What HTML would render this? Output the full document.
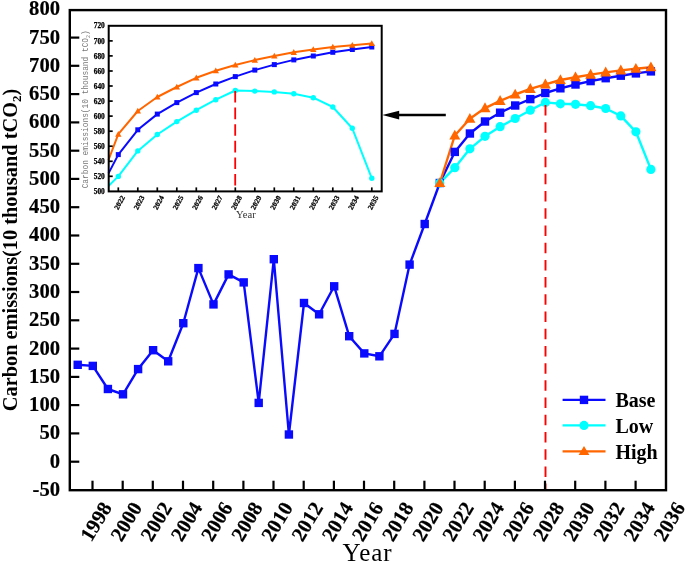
<!DOCTYPE html><html><head><meta charset="utf-8"><title>Carbon emissions</title>
<style>html,body{margin:0;padding:0;background:#fff}svg{display:block}text{font-family:"Liberation Serif",serif}.b{font-weight:bold}.m{font-family:"Liberation Mono",monospace}</style></head><body>
<svg width="685" height="563" viewBox="0 0 685 563">
<rect width="685" height="563" fill="#fff"/>
<polyline fill="none" stroke="#0a0aff" stroke-width="2.4" stroke-linejoin="round" points="77.7,364.8 92.8,365.9 107.9,389.0 123.0,394.3 138.1,369.1 153.1,350.2 168.2,361.3 183.3,323.2 198.4,268.1 213.5,304.4 228.6,274.4 243.7,282.4 258.7,402.9 273.8,259.2 288.9,434.5 304.0,303.0 319.1,314.3 334.2,286.3 349.2,336.2 364.3,353.4 379.4,356.3 394.5,333.9 409.6,264.6 424.7,224.0 439.8,183.0 454.8,151.9 469.9,133.5 485.0,121.5 500.1,112.7 515.2,105.5 530.3,99.1 545.4,93.0 560.4,88.3 575.5,84.5 590.6,81.1 605.7,78.2 620.8,75.7 635.9,73.4 650.9,71.4"/>
<polyline fill="none" stroke="#00ffff" stroke-width="2.4" stroke-linejoin="round" points="439.8,183.0 454.8,167.7 469.9,148.8 485.0,136.3 500.1,126.7 515.2,118.5 530.3,110.2 545.4,102.4 560.4,103.8 575.5,104.3 590.6,105.7 605.7,108.5 620.8,115.9 635.9,131.8 650.9,169.4"/>
<polyline fill="none" stroke="#ff6600" stroke-width="2.4" stroke-linejoin="round" points="439.8,183.0 454.8,135.5 469.9,118.7 485.0,108.1 500.1,100.9 515.2,94.5 530.3,88.9 545.4,84.4 560.4,80.0 575.5,77.2 590.6,74.6 605.7,72.4 620.8,70.4 635.9,68.7 650.9,67.2"/>
<rect x="73.5" y="360.6" width="8.4" height="8.4" fill="#0a0aff"/>
<rect x="88.6" y="361.7" width="8.4" height="8.4" fill="#0a0aff"/>
<rect x="103.7" y="384.8" width="8.4" height="8.4" fill="#0a0aff"/>
<rect x="118.8" y="390.1" width="8.4" height="8.4" fill="#0a0aff"/>
<rect x="133.9" y="364.9" width="8.4" height="8.4" fill="#0a0aff"/>
<rect x="148.9" y="346.0" width="8.4" height="8.4" fill="#0a0aff"/>
<rect x="164.0" y="357.1" width="8.4" height="8.4" fill="#0a0aff"/>
<rect x="179.1" y="319.0" width="8.4" height="8.4" fill="#0a0aff"/>
<rect x="194.2" y="263.9" width="8.4" height="8.4" fill="#0a0aff"/>
<rect x="209.3" y="300.2" width="8.4" height="8.4" fill="#0a0aff"/>
<rect x="224.4" y="270.2" width="8.4" height="8.4" fill="#0a0aff"/>
<rect x="239.5" y="278.2" width="8.4" height="8.4" fill="#0a0aff"/>
<rect x="254.5" y="398.7" width="8.4" height="8.4" fill="#0a0aff"/>
<rect x="269.6" y="255.0" width="8.4" height="8.4" fill="#0a0aff"/>
<rect x="284.7" y="430.3" width="8.4" height="8.4" fill="#0a0aff"/>
<rect x="299.8" y="298.8" width="8.4" height="8.4" fill="#0a0aff"/>
<rect x="314.9" y="310.1" width="8.4" height="8.4" fill="#0a0aff"/>
<rect x="330.0" y="282.1" width="8.4" height="8.4" fill="#0a0aff"/>
<rect x="345.0" y="332.0" width="8.4" height="8.4" fill="#0a0aff"/>
<rect x="360.1" y="349.2" width="8.4" height="8.4" fill="#0a0aff"/>
<rect x="375.2" y="352.1" width="8.4" height="8.4" fill="#0a0aff"/>
<rect x="390.3" y="329.7" width="8.4" height="8.4" fill="#0a0aff"/>
<rect x="405.4" y="260.4" width="8.4" height="8.4" fill="#0a0aff"/>
<rect x="420.5" y="219.8" width="8.4" height="8.4" fill="#0a0aff"/>
<rect x="435.6" y="178.8" width="8.4" height="8.4" fill="#0a0aff"/>
<rect x="450.6" y="147.7" width="8.4" height="8.4" fill="#0a0aff"/>
<rect x="465.7" y="129.3" width="8.4" height="8.4" fill="#0a0aff"/>
<rect x="480.8" y="117.3" width="8.4" height="8.4" fill="#0a0aff"/>
<rect x="495.9" y="108.5" width="8.4" height="8.4" fill="#0a0aff"/>
<rect x="511.0" y="101.3" width="8.4" height="8.4" fill="#0a0aff"/>
<rect x="526.1" y="94.9" width="8.4" height="8.4" fill="#0a0aff"/>
<rect x="541.1" y="88.8" width="8.4" height="8.4" fill="#0a0aff"/>
<rect x="556.2" y="84.1" width="8.4" height="8.4" fill="#0a0aff"/>
<rect x="571.3" y="80.3" width="8.4" height="8.4" fill="#0a0aff"/>
<rect x="586.4" y="76.9" width="8.4" height="8.4" fill="#0a0aff"/>
<rect x="601.5" y="74.0" width="8.4" height="8.4" fill="#0a0aff"/>
<rect x="616.6" y="71.5" width="8.4" height="8.4" fill="#0a0aff"/>
<rect x="631.7" y="69.2" width="8.4" height="8.4" fill="#0a0aff"/>
<rect x="646.7" y="67.2" width="8.4" height="8.4" fill="#0a0aff"/>
<circle cx="439.8" cy="183.0" r="4.6" fill="#00ffff"/>
<circle cx="454.8" cy="167.7" r="4.6" fill="#00ffff"/>
<circle cx="469.9" cy="148.8" r="4.6" fill="#00ffff"/>
<circle cx="485.0" cy="136.3" r="4.6" fill="#00ffff"/>
<circle cx="500.1" cy="126.7" r="4.6" fill="#00ffff"/>
<circle cx="515.2" cy="118.5" r="4.6" fill="#00ffff"/>
<circle cx="530.3" cy="110.2" r="4.6" fill="#00ffff"/>
<circle cx="545.4" cy="102.4" r="4.6" fill="#00ffff"/>
<circle cx="560.4" cy="103.8" r="4.6" fill="#00ffff"/>
<circle cx="575.5" cy="104.3" r="4.6" fill="#00ffff"/>
<circle cx="590.6" cy="105.7" r="4.6" fill="#00ffff"/>
<circle cx="605.7" cy="108.5" r="4.6" fill="#00ffff"/>
<circle cx="620.8" cy="115.9" r="4.6" fill="#00ffff"/>
<circle cx="635.9" cy="131.8" r="4.6" fill="#00ffff"/>
<circle cx="650.9" cy="169.4" r="4.6" fill="#00ffff"/>
<polygon points="439.8,177.2 434.3,187.1 445.3,187.1" fill="#ff6600"/>
<polygon points="454.8,129.7 449.3,139.6 460.3,139.6" fill="#ff6600"/>
<polygon points="469.9,112.9 464.4,122.8 475.4,122.8" fill="#ff6600"/>
<polygon points="485.0,102.3 479.5,112.2 490.5,112.2" fill="#ff6600"/>
<polygon points="500.1,95.1 494.6,105.0 505.6,105.0" fill="#ff6600"/>
<polygon points="515.2,88.7 509.7,98.6 520.7,98.6" fill="#ff6600"/>
<polygon points="530.3,83.1 524.8,93.0 535.8,93.0" fill="#ff6600"/>
<polygon points="545.4,78.6 539.9,88.5 550.9,88.5" fill="#ff6600"/>
<polygon points="560.4,74.2 554.9,84.1 565.9,84.1" fill="#ff6600"/>
<polygon points="575.5,71.4 570.0,81.3 581.0,81.3" fill="#ff6600"/>
<polygon points="590.6,68.8 585.1,78.7 596.1,78.7" fill="#ff6600"/>
<polygon points="605.7,66.6 600.2,76.5 611.2,76.5" fill="#ff6600"/>
<polygon points="620.8,64.6 615.3,74.5 626.3,74.5" fill="#ff6600"/>
<polygon points="635.9,62.9 630.4,72.8 641.4,72.8" fill="#ff6600"/>
<polygon points="650.9,61.4 645.4,71.3 656.4,71.3" fill="#ff6600"/>
<line x1="545.5" y1="105" x2="545.5" y2="489.5" stroke="#ff0000" stroke-width="1.9" stroke-dasharray="10.5 6.71"/>
<rect x="69.8" y="10.1" width="596.2" height="480.1" fill="none" stroke="#000" stroke-width="2.4"/>
<text class="b" x="60" y="15.2" font-size="20.6" text-anchor="end" stroke="#000" stroke-width="0.2">800</text>
<line x1="69.8" y1="37.6" x2="79.3" y2="37.6" stroke="#000" stroke-width="2.2"/>
<text class="b" x="60" y="43.5" font-size="20.6" text-anchor="end" stroke="#000" stroke-width="0.2">750</text>
<line x1="69.8" y1="65.8" x2="79.3" y2="65.8" stroke="#000" stroke-width="2.2"/>
<text class="b" x="60" y="71.7" font-size="20.6" text-anchor="end" stroke="#000" stroke-width="0.2">700</text>
<line x1="69.8" y1="94.1" x2="79.3" y2="94.1" stroke="#000" stroke-width="2.2"/>
<text class="b" x="60" y="100.0" font-size="20.6" text-anchor="end" stroke="#000" stroke-width="0.2">650</text>
<line x1="69.8" y1="122.4" x2="79.3" y2="122.4" stroke="#000" stroke-width="2.2"/>
<text class="b" x="60" y="128.3" font-size="20.6" text-anchor="end" stroke="#000" stroke-width="0.2">600</text>
<line x1="69.8" y1="150.7" x2="79.3" y2="150.7" stroke="#000" stroke-width="2.2"/>
<text class="b" x="60" y="156.6" font-size="20.6" text-anchor="end" stroke="#000" stroke-width="0.2">550</text>
<line x1="69.8" y1="178.9" x2="79.3" y2="178.9" stroke="#000" stroke-width="2.2"/>
<text class="b" x="60" y="184.8" font-size="20.6" text-anchor="end" stroke="#000" stroke-width="0.2">500</text>
<line x1="69.8" y1="207.2" x2="79.3" y2="207.2" stroke="#000" stroke-width="2.2"/>
<text class="b" x="60" y="213.1" font-size="20.6" text-anchor="end" stroke="#000" stroke-width="0.2">450</text>
<line x1="69.8" y1="235.5" x2="79.3" y2="235.5" stroke="#000" stroke-width="2.2"/>
<text class="b" x="60" y="241.4" font-size="20.6" text-anchor="end" stroke="#000" stroke-width="0.2">400</text>
<line x1="69.8" y1="263.8" x2="79.3" y2="263.8" stroke="#000" stroke-width="2.2"/>
<text class="b" x="60" y="269.7" font-size="20.6" text-anchor="end" stroke="#000" stroke-width="0.2">350</text>
<line x1="69.8" y1="292.0" x2="79.3" y2="292.0" stroke="#000" stroke-width="2.2"/>
<text class="b" x="60" y="297.9" font-size="20.6" text-anchor="end" stroke="#000" stroke-width="0.2">300</text>
<line x1="69.8" y1="320.3" x2="79.3" y2="320.3" stroke="#000" stroke-width="2.2"/>
<text class="b" x="60" y="326.2" font-size="20.6" text-anchor="end" stroke="#000" stroke-width="0.2">250</text>
<line x1="69.8" y1="348.6" x2="79.3" y2="348.6" stroke="#000" stroke-width="2.2"/>
<text class="b" x="60" y="354.5" font-size="20.6" text-anchor="end" stroke="#000" stroke-width="0.2">200</text>
<line x1="69.8" y1="376.9" x2="79.3" y2="376.9" stroke="#000" stroke-width="2.2"/>
<text class="b" x="60" y="382.8" font-size="20.6" text-anchor="end" stroke="#000" stroke-width="0.2">150</text>
<line x1="69.8" y1="405.1" x2="79.3" y2="405.1" stroke="#000" stroke-width="2.2"/>
<text class="b" x="60" y="411.0" font-size="20.6" text-anchor="end" stroke="#000" stroke-width="0.2">100</text>
<line x1="69.8" y1="433.4" x2="79.3" y2="433.4" stroke="#000" stroke-width="2.2"/>
<text class="b" x="60" y="439.3" font-size="20.6" text-anchor="end" stroke="#000" stroke-width="0.2">50</text>
<line x1="69.8" y1="461.7" x2="79.3" y2="461.7" stroke="#000" stroke-width="2.2"/>
<text class="b" x="60" y="467.6" font-size="20.6" text-anchor="end" stroke="#000" stroke-width="0.2">0</text>
<text class="b" x="60" y="495.9" font-size="20.6" text-anchor="end" stroke="#000" stroke-width="0.2">-50</text>
<line x1="92.5" y1="490.2" x2="92.5" y2="480.7" stroke="#000" stroke-width="2.2"/>
<text class="b" font-size="20.6" text-anchor="end" stroke="#000" stroke-width="0.2" transform="translate(112.5,507.4) rotate(-59)">1998</text>
<line x1="122.7" y1="490.2" x2="122.7" y2="480.7" stroke="#000" stroke-width="2.2"/>
<text class="b" font-size="20.6" text-anchor="end" stroke="#000" stroke-width="0.2" transform="translate(142.7,507.4) rotate(-59)">2000</text>
<line x1="152.8" y1="490.2" x2="152.8" y2="480.7" stroke="#000" stroke-width="2.2"/>
<text class="b" font-size="20.6" text-anchor="end" stroke="#000" stroke-width="0.2" transform="translate(172.8,507.4) rotate(-59)">2002</text>
<line x1="183.0" y1="490.2" x2="183.0" y2="480.7" stroke="#000" stroke-width="2.2"/>
<text class="b" font-size="20.6" text-anchor="end" stroke="#000" stroke-width="0.2" transform="translate(203.0,507.4) rotate(-59)">2004</text>
<line x1="213.2" y1="490.2" x2="213.2" y2="480.7" stroke="#000" stroke-width="2.2"/>
<text class="b" font-size="20.6" text-anchor="end" stroke="#000" stroke-width="0.2" transform="translate(233.2,507.4) rotate(-59)">2006</text>
<line x1="243.4" y1="490.2" x2="243.4" y2="480.7" stroke="#000" stroke-width="2.2"/>
<text class="b" font-size="20.6" text-anchor="end" stroke="#000" stroke-width="0.2" transform="translate(263.4,507.4) rotate(-59)">2008</text>
<line x1="273.5" y1="490.2" x2="273.5" y2="480.7" stroke="#000" stroke-width="2.2"/>
<text class="b" font-size="20.6" text-anchor="end" stroke="#000" stroke-width="0.2" transform="translate(293.5,507.4) rotate(-59)">2010</text>
<line x1="303.7" y1="490.2" x2="303.7" y2="480.7" stroke="#000" stroke-width="2.2"/>
<text class="b" font-size="20.6" text-anchor="end" stroke="#000" stroke-width="0.2" transform="translate(323.7,507.4) rotate(-59)">2012</text>
<line x1="333.9" y1="490.2" x2="333.9" y2="480.7" stroke="#000" stroke-width="2.2"/>
<text class="b" font-size="20.6" text-anchor="end" stroke="#000" stroke-width="0.2" transform="translate(353.9,507.4) rotate(-59)">2014</text>
<line x1="364.0" y1="490.2" x2="364.0" y2="480.7" stroke="#000" stroke-width="2.2"/>
<text class="b" font-size="20.6" text-anchor="end" stroke="#000" stroke-width="0.2" transform="translate(384.0,507.4) rotate(-59)">2016</text>
<line x1="394.2" y1="490.2" x2="394.2" y2="480.7" stroke="#000" stroke-width="2.2"/>
<text class="b" font-size="20.6" text-anchor="end" stroke="#000" stroke-width="0.2" transform="translate(414.2,507.4) rotate(-59)">2018</text>
<line x1="424.4" y1="490.2" x2="424.4" y2="480.7" stroke="#000" stroke-width="2.2"/>
<text class="b" font-size="20.6" text-anchor="end" stroke="#000" stroke-width="0.2" transform="translate(444.4,507.4) rotate(-59)">2020</text>
<line x1="454.5" y1="490.2" x2="454.5" y2="480.7" stroke="#000" stroke-width="2.2"/>
<text class="b" font-size="20.6" text-anchor="end" stroke="#000" stroke-width="0.2" transform="translate(474.5,507.4) rotate(-59)">2022</text>
<line x1="484.7" y1="490.2" x2="484.7" y2="480.7" stroke="#000" stroke-width="2.2"/>
<text class="b" font-size="20.6" text-anchor="end" stroke="#000" stroke-width="0.2" transform="translate(504.7,507.4) rotate(-59)">2024</text>
<line x1="514.9" y1="490.2" x2="514.9" y2="480.7" stroke="#000" stroke-width="2.2"/>
<text class="b" font-size="20.6" text-anchor="end" stroke="#000" stroke-width="0.2" transform="translate(534.9,507.4) rotate(-59)">2026</text>
<line x1="545.0" y1="490.2" x2="545.0" y2="480.7" stroke="#000" stroke-width="2.2"/>
<text class="b" font-size="20.6" text-anchor="end" stroke="#000" stroke-width="0.2" transform="translate(565.0,507.4) rotate(-59)">2028</text>
<line x1="575.2" y1="490.2" x2="575.2" y2="480.7" stroke="#000" stroke-width="2.2"/>
<text class="b" font-size="20.6" text-anchor="end" stroke="#000" stroke-width="0.2" transform="translate(595.2,507.4) rotate(-59)">2030</text>
<line x1="605.4" y1="490.2" x2="605.4" y2="480.7" stroke="#000" stroke-width="2.2"/>
<text class="b" font-size="20.6" text-anchor="end" stroke="#000" stroke-width="0.2" transform="translate(625.4,507.4) rotate(-59)">2032</text>
<line x1="635.6" y1="490.2" x2="635.6" y2="480.7" stroke="#000" stroke-width="2.2"/>
<text class="b" font-size="20.6" text-anchor="end" stroke="#000" stroke-width="0.2" transform="translate(655.6,507.4) rotate(-59)">2034</text>
<text class="b" font-size="20.6" text-anchor="end" stroke="#000" stroke-width="0.2" transform="translate(685.7,507.4) rotate(-59)">2036</text>
<text x="342.6" y="560.5" font-size="25" letter-spacing="1.0">Year</text>
<text class="b" font-size="20.35" text-anchor="middle" transform="translate(16.6,250) rotate(-90)">Carbon emissions(10 thousand tCO<tspan font-size="13" dy="4">2</tspan><tspan dy="-4">)</tspan></text>
<line x1="562.6" y1="399.9" x2="605.5" y2="399.9" stroke="#0a0aff" stroke-width="2.4"/>
<rect x="579.8" y="395.7" width="8.4" height="8.4" fill="#0a0aff"/>
<text class="b" x="615.5" y="407.0" font-size="20">Base</text>
<line x1="562.6" y1="425.4" x2="605.5" y2="425.4" stroke="#00ffff" stroke-width="2.4"/>
<circle cx="584.0" cy="425.4" r="4.6" fill="#00ffff"/>
<text class="b" x="615.5" y="432.5" font-size="20">Low</text>
<line x1="562.6" y1="451.4" x2="605.5" y2="451.4" stroke="#ff6600" stroke-width="2.4"/>
<polygon points="584.0,446.1 578.6,455.1 589.4,455.1" fill="#ff6600"/>
<text class="b" x="615.5" y="458.5" font-size="20">High</text>
<line x1="397" y1="115.1" x2="445.8" y2="115.1" stroke="#000" stroke-width="2.5"/>
<polygon points="382.4,115.1 399.2,110.8 399.2,119.4" fill="#000"/>
<rect x="108.7" y="25.8" width="273.0" height="165.6" fill="#fff"/>
<polyline fill="none" stroke="#0a0aff" stroke-width="2" stroke-linejoin="round" points="108.5,173.4 118.3,154.6 137.8,129.8 157.3,114.1 176.8,102.6 196.3,92.6 215.8,84.0 235.3,76.6 254.8,70.1 274.3,64.6 293.8,59.9 313.3,56.0 332.8,52.3 352.3,49.5 371.8,47.0"/>
<polyline fill="none" stroke="#00ffff" stroke-width="2" stroke-linejoin="round" points="108.5,186.0 118.3,176.4 137.8,150.9 157.3,134.5 176.8,121.6 196.3,110.2 215.8,99.7 235.3,90.5 254.8,91.1 274.3,91.9 293.8,93.7 313.3,97.7 332.8,107.0 352.3,128.3 371.8,178.3"/>
<polyline fill="none" stroke="#ff6600" stroke-width="2" stroke-linejoin="round" points="108.5,160.0 118.3,134.1 137.8,111.0 157.3,97.0 176.8,87.0 196.3,77.8 215.8,70.7 235.3,65.0 254.8,60.1 274.3,56.0 293.8,52.3 313.3,49.5 332.8,47.0 352.3,45.2 371.8,43.4"/>
<rect x="115.8" y="152.1" width="5.0" height="5.0" fill="#0a0aff"/>
<rect x="135.3" y="127.3" width="5.0" height="5.0" fill="#0a0aff"/>
<rect x="154.8" y="111.6" width="5.0" height="5.0" fill="#0a0aff"/>
<rect x="174.3" y="100.1" width="5.0" height="5.0" fill="#0a0aff"/>
<rect x="193.8" y="90.1" width="5.0" height="5.0" fill="#0a0aff"/>
<rect x="213.3" y="81.5" width="5.0" height="5.0" fill="#0a0aff"/>
<rect x="232.8" y="74.1" width="5.0" height="5.0" fill="#0a0aff"/>
<rect x="252.3" y="67.6" width="5.0" height="5.0" fill="#0a0aff"/>
<rect x="271.8" y="62.1" width="5.0" height="5.0" fill="#0a0aff"/>
<rect x="291.3" y="57.4" width="5.0" height="5.0" fill="#0a0aff"/>
<rect x="310.8" y="53.5" width="5.0" height="5.0" fill="#0a0aff"/>
<rect x="330.3" y="49.8" width="5.0" height="5.0" fill="#0a0aff"/>
<rect x="349.8" y="47.0" width="5.0" height="5.0" fill="#0a0aff"/>
<rect x="369.3" y="44.5" width="5.0" height="5.0" fill="#0a0aff"/>
<circle cx="118.3" cy="176.4" r="2.7" fill="#00ffff"/>
<circle cx="137.8" cy="150.9" r="2.7" fill="#00ffff"/>
<circle cx="157.3" cy="134.5" r="2.7" fill="#00ffff"/>
<circle cx="176.8" cy="121.6" r="2.7" fill="#00ffff"/>
<circle cx="196.3" cy="110.2" r="2.7" fill="#00ffff"/>
<circle cx="215.8" cy="99.7" r="2.7" fill="#00ffff"/>
<circle cx="235.3" cy="90.5" r="2.7" fill="#00ffff"/>
<circle cx="254.8" cy="91.1" r="2.7" fill="#00ffff"/>
<circle cx="274.3" cy="91.9" r="2.7" fill="#00ffff"/>
<circle cx="293.8" cy="93.7" r="2.7" fill="#00ffff"/>
<circle cx="313.3" cy="97.7" r="2.7" fill="#00ffff"/>
<circle cx="332.8" cy="107.0" r="2.7" fill="#00ffff"/>
<circle cx="352.3" cy="128.3" r="2.7" fill="#00ffff"/>
<circle cx="371.8" cy="178.3" r="2.7" fill="#00ffff"/>
<polygon points="118.3,130.9 115.1,136.7 121.5,136.7" fill="#ff6600"/>
<polygon points="137.8,107.8 134.6,113.6 141.0,113.6" fill="#ff6600"/>
<polygon points="157.3,93.8 154.1,99.6 160.5,99.6" fill="#ff6600"/>
<polygon points="176.8,83.8 173.6,89.6 180.0,89.6" fill="#ff6600"/>
<polygon points="196.3,74.6 193.1,80.4 199.5,80.4" fill="#ff6600"/>
<polygon points="215.8,67.5 212.6,73.3 219.0,73.3" fill="#ff6600"/>
<polygon points="235.3,61.8 232.1,67.6 238.5,67.6" fill="#ff6600"/>
<polygon points="254.8,56.9 251.6,62.7 258.0,62.7" fill="#ff6600"/>
<polygon points="274.3,52.8 271.1,58.6 277.5,58.6" fill="#ff6600"/>
<polygon points="293.8,49.1 290.6,54.9 297.0,54.9" fill="#ff6600"/>
<polygon points="313.3,46.3 310.1,52.1 316.5,52.1" fill="#ff6600"/>
<polygon points="332.8,43.8 329.6,49.6 336.0,49.6" fill="#ff6600"/>
<polygon points="352.3,42.0 349.1,47.8 355.5,47.8" fill="#ff6600"/>
<polygon points="371.8,40.2 368.6,46.0 375.0,46.0" fill="#ff6600"/>
<line x1="235.2" y1="91" x2="235.2" y2="190" stroke="#ff0000" stroke-width="1.8" stroke-dasharray="11.6 5"/>
<rect x="108.7" y="25.8" width="273.0" height="165.6" fill="none" stroke="#000" stroke-width="2"/>
<text class="b" x="104.8" y="28.4" font-size="7.4" text-anchor="end" stroke="#000" stroke-width="0.25">720</text>
<line x1="108.7" y1="40.9" x2="112.7" y2="40.9" stroke="#000" stroke-width="1.7"/>
<text class="b" x="104.8" y="43.5" font-size="7.4" text-anchor="end" stroke="#000" stroke-width="0.25">700</text>
<line x1="108.7" y1="55.9" x2="112.7" y2="55.9" stroke="#000" stroke-width="1.7"/>
<text class="b" x="104.8" y="58.5" font-size="7.4" text-anchor="end" stroke="#000" stroke-width="0.25">680</text>
<line x1="108.7" y1="71.0" x2="112.7" y2="71.0" stroke="#000" stroke-width="1.7"/>
<text class="b" x="104.8" y="73.6" font-size="7.4" text-anchor="end" stroke="#000" stroke-width="0.25">660</text>
<line x1="108.7" y1="86.0" x2="112.7" y2="86.0" stroke="#000" stroke-width="1.7"/>
<text class="b" x="104.8" y="88.6" font-size="7.4" text-anchor="end" stroke="#000" stroke-width="0.25">640</text>
<line x1="108.7" y1="101.1" x2="112.7" y2="101.1" stroke="#000" stroke-width="1.7"/>
<text class="b" x="104.8" y="103.7" font-size="7.4" text-anchor="end" stroke="#000" stroke-width="0.25">620</text>
<line x1="108.7" y1="116.1" x2="112.7" y2="116.1" stroke="#000" stroke-width="1.7"/>
<text class="b" x="104.8" y="118.7" font-size="7.4" text-anchor="end" stroke="#000" stroke-width="0.25">600</text>
<line x1="108.7" y1="131.2" x2="112.7" y2="131.2" stroke="#000" stroke-width="1.7"/>
<text class="b" x="104.8" y="133.8" font-size="7.4" text-anchor="end" stroke="#000" stroke-width="0.25">580</text>
<line x1="108.7" y1="146.2" x2="112.7" y2="146.2" stroke="#000" stroke-width="1.7"/>
<text class="b" x="104.8" y="148.8" font-size="7.4" text-anchor="end" stroke="#000" stroke-width="0.25">560</text>
<line x1="108.7" y1="161.3" x2="112.7" y2="161.3" stroke="#000" stroke-width="1.7"/>
<text class="b" x="104.8" y="163.9" font-size="7.4" text-anchor="end" stroke="#000" stroke-width="0.25">540</text>
<line x1="108.7" y1="176.3" x2="112.7" y2="176.3" stroke="#000" stroke-width="1.7"/>
<text class="b" x="104.8" y="178.9" font-size="7.4" text-anchor="end" stroke="#000" stroke-width="0.25">520</text>
<text class="b" x="104.8" y="194.0" font-size="7.4" text-anchor="end" stroke="#000" stroke-width="0.25">500</text>
<line x1="118.3" y1="191.4" x2="118.3" y2="187.4" stroke="#000" stroke-width="1.7"/>
<text class="b" font-size="7.3" text-anchor="end" stroke="#000" stroke-width="0.25" transform="translate(125.1,197.3) rotate(-62)">2022</text>
<line x1="137.8" y1="191.4" x2="137.8" y2="187.4" stroke="#000" stroke-width="1.7"/>
<text class="b" font-size="7.3" text-anchor="end" stroke="#000" stroke-width="0.25" transform="translate(144.6,197.3) rotate(-62)">2023</text>
<line x1="157.3" y1="191.4" x2="157.3" y2="187.4" stroke="#000" stroke-width="1.7"/>
<text class="b" font-size="7.3" text-anchor="end" stroke="#000" stroke-width="0.25" transform="translate(164.1,197.3) rotate(-62)">2024</text>
<line x1="176.8" y1="191.4" x2="176.8" y2="187.4" stroke="#000" stroke-width="1.7"/>
<text class="b" font-size="7.3" text-anchor="end" stroke="#000" stroke-width="0.25" transform="translate(183.6,197.3) rotate(-62)">2025</text>
<line x1="196.3" y1="191.4" x2="196.3" y2="187.4" stroke="#000" stroke-width="1.7"/>
<text class="b" font-size="7.3" text-anchor="end" stroke="#000" stroke-width="0.25" transform="translate(203.1,197.3) rotate(-62)">2026</text>
<line x1="215.8" y1="191.4" x2="215.8" y2="187.4" stroke="#000" stroke-width="1.7"/>
<text class="b" font-size="7.3" text-anchor="end" stroke="#000" stroke-width="0.25" transform="translate(222.6,197.3) rotate(-62)">2027</text>
<line x1="235.3" y1="191.4" x2="235.3" y2="187.4" stroke="#000" stroke-width="1.7"/>
<text class="b" font-size="7.3" text-anchor="end" stroke="#000" stroke-width="0.25" transform="translate(242.1,197.3) rotate(-62)">2028</text>
<line x1="254.8" y1="191.4" x2="254.8" y2="187.4" stroke="#000" stroke-width="1.7"/>
<text class="b" font-size="7.3" text-anchor="end" stroke="#000" stroke-width="0.25" transform="translate(261.6,197.3) rotate(-62)">2029</text>
<line x1="274.3" y1="191.4" x2="274.3" y2="187.4" stroke="#000" stroke-width="1.7"/>
<text class="b" font-size="7.3" text-anchor="end" stroke="#000" stroke-width="0.25" transform="translate(281.1,197.3) rotate(-62)">2030</text>
<line x1="293.8" y1="191.4" x2="293.8" y2="187.4" stroke="#000" stroke-width="1.7"/>
<text class="b" font-size="7.3" text-anchor="end" stroke="#000" stroke-width="0.25" transform="translate(300.6,197.3) rotate(-62)">2031</text>
<line x1="313.3" y1="191.4" x2="313.3" y2="187.4" stroke="#000" stroke-width="1.7"/>
<text class="b" font-size="7.3" text-anchor="end" stroke="#000" stroke-width="0.25" transform="translate(320.1,197.3) rotate(-62)">2032</text>
<line x1="332.8" y1="191.4" x2="332.8" y2="187.4" stroke="#000" stroke-width="1.7"/>
<text class="b" font-size="7.3" text-anchor="end" stroke="#000" stroke-width="0.25" transform="translate(339.6,197.3) rotate(-62)">2033</text>
<line x1="352.3" y1="191.4" x2="352.3" y2="187.4" stroke="#000" stroke-width="1.7"/>
<text class="b" font-size="7.3" text-anchor="end" stroke="#000" stroke-width="0.25" transform="translate(359.1,197.3) rotate(-62)">2034</text>
<line x1="371.8" y1="191.4" x2="371.8" y2="187.4" stroke="#000" stroke-width="1.7"/>
<text class="b" font-size="7.3" text-anchor="end" stroke="#000" stroke-width="0.25" transform="translate(378.6,197.3) rotate(-62)">2035</text>
<text x="236" y="217.6" font-size="10.6" letter-spacing="0.1" fill="#333">Year</text>
<text class="m" font-size="9.4" fill="#777" text-anchor="middle" transform="translate(88.1,109.3) rotate(-90) scale(0.835,1)">Carbon emissions(10 thousand tCO<tspan font-size="6" dy="2">2</tspan><tspan dy="-2">)</tspan></text>
</svg></body></html>
